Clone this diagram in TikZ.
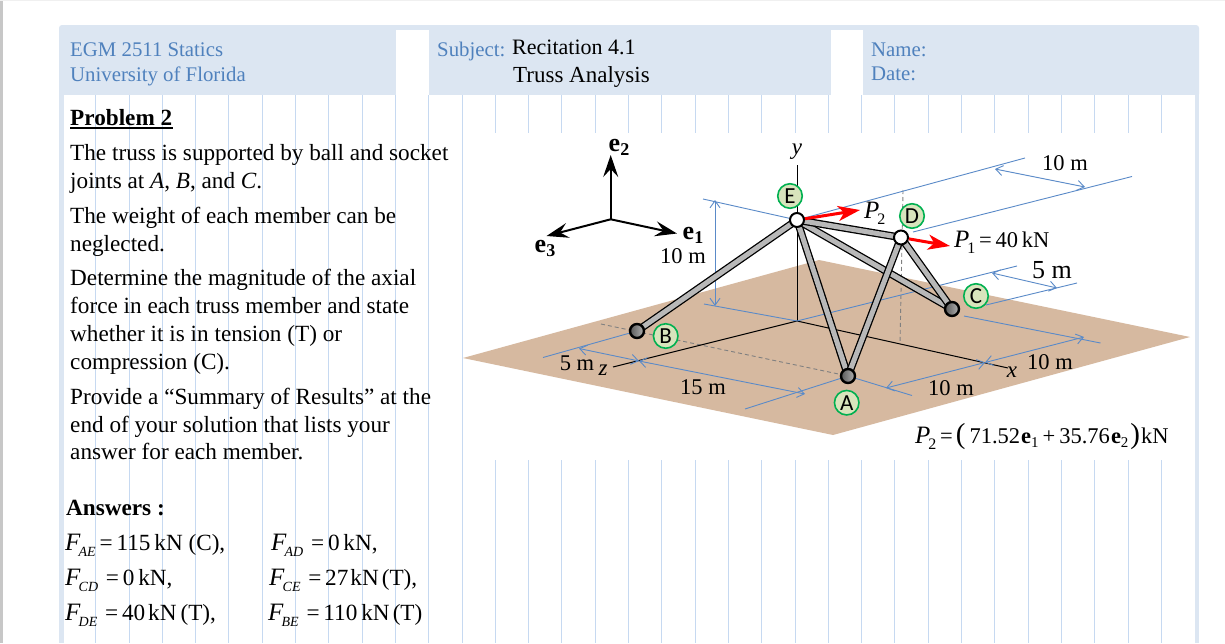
\documentclass[tikz,border=0pt]{standalone}
\usepackage{fontspec}
\setmainfont{Liberation Serif}
\newfontfamily\labelfont{Carlito}
\usetikzlibrary{arrows.meta,calc}
\definecolor{panel}{HTML}{DCE6F2}
\definecolor{gridc}{HTML}{C6D9F1}
\definecolor{headc}{HTML}{4F81BD}
\definecolor{dimc}{HTML}{5A8AC8}
\definecolor{groundc}{HTML}{D6B9A0}
\definecolor{lblfill}{HTML}{D8E4BC}
\definecolor{lbledge}{HTML}{00B050}
\newcommand{\fs}[1]{\fontsize{#1}{#1}\selectfont}
\newcommand{\Fsub}[1]{{\fs{25}\textit{F}}\kern-2pt\raisebox{-6pt}{\fs{14}\itshape #1}}
\newcommand{\Psub}[1]{{\fs{25}\textit{P}}\kern-2pt\raisebox{-6pt}{\fs{16}#1}}
\newcommand{\evec}[1]{\textbf{e}\raisebox{-4pt}{\fs{15}#1}}
\newcommand{\tvec}[1]{{\fs{26}\textbf{e}}\raisebox{-4pt}{\fs{18}\bfseries #1}}
\tikzset{
  txt/.style={anchor=base west,inner sep=0pt,font=\fs{23.2}},
  head/.style={anchor=base west,inner sep=0pt,font=\fs{20.8},text=headc},
  dimlbl/.style={inner sep=0pt,font=\fs{22.5}},
  dimline/.style={draw=dimc,line width=0.9pt},
  dimarrow/.style={draw=dimc,line width=0.9pt,{Straight Barb[length=7pt,width=10pt]}-{Straight Barb[length=7pt,width=10pt]}},
  axis/.style={draw=black,line width=1pt},
  hidden/.style={draw=gray,line width=0.9pt,dash pattern=on 4pt off 3pt},
  memo/.style={draw=black,line width=7.6pt},
  memi/.style={draw=black!28,line width=5pt},
  triad/.style={draw=black,line width=2pt,-{Stealth[length=22pt,width=15pt,inset=8pt]}},
  load/.style={draw=red,line width=3pt,-{Stealth[length=22pt,width=15pt,inset=6pt]}},
  pinjoint/.style={circle,draw=black,fill=white,line width=2pt,minimum size=14pt,inner sep=0pt},
  balljoint/.style={circle,draw=black,line width=2.4pt,left color=black!65,right color=black!30,minimum size=14pt,inner sep=0pt},
  lbl/.style={circle,draw=lbledge,fill=lblfill,line width=1.6pt,minimum size=24.5pt,inner sep=0pt,font=\labelfont\fs{23}},
  gridl/.style={draw=gridc,line width=1pt}
}
\begin{document}
\begin{tikzpicture}[x=1pt,y=-1pt]
\useasboundingbox (0,0) rectangle (1225,643);
\fill[white] (0,0) rectangle (1225,643);
\fill[black!22] (0,0) rectangle (3,643);
\fill[black!6] (0,0) rectangle (1225,1);
% page panel
\fill[panel,rounded corners=3pt] (59,25) rectangle (1199,97);
\fill[panel] (59,90) rectangle (64,643);
\fill[panel] (1195,90) rectangle (1199,643);
\fill[white] (64,95) rectangle (1195,643);
\fill[white] (396,30) rectangle (429,95);
\fill[white] (831,30) rectangle (863,95);
\foreach \k in {0,...,32}{
  \draw[gridl] ({95.7+33.3*\k},95) -- ({95.7+33.3*\k},643);
}
\fill[white] (463.5,133) rectangle (1195,460);
% header
\node[head] (h1) at (70,56) {EGM 2511 Statics};
\node[head] (h2) at (70,81) {University of Florida};
\node[head] (h3) at (437,56) {Subject:};
\node[txt,font=\fs{22}] (h4) at (512,54) {Recitation 4.1};
\node[txt,font=\fs{23}] (h5) at (513,82) {Truss Analysis};
\node[head] (h6) at (871,56) {Name:};
\node[head] (h7) at (871,80) {Date:};
% problem text
\node[txt,font=\fs{23.2}\bfseries] (p0) at (70,125) {Problem 2};
\fill (70,127.4) rectangle (172.5,129);
\node[txt] (p1) at (70,160) {The truss is supported by ball and socket};
\node[txt] (p2) at (70,188) {joints at \textit{A}, \textit{B}, and \textit{C}.};
\node[txt] (p3) at (70,223) {The weight of each member can be};
\node[txt] (p4) at (70,251) {neglected.};
\node[txt] (p5) at (70,285) {Determine the magnitude of the axial};
\node[txt] (p6) at (70,313) {force in each truss member and state};
\node[txt] (p7) at (70,341) {whether it is in tension (T) or};
\node[txt] (p8) at (70,369) {compression (C).};
\node[txt] (p9) at (70,404) {Provide a “Summary of Results” at the};
\node[txt] (p10) at (70,432) {end of your solution that lists your};
\node[txt] (p11) at (70,459) {answer for each member.};
% answers
\node[txt,font=\fs{23.2}\bfseries] (a0) at (66,515) {Answers :};
\node[txt] (a1) at (65,550) {\Fsub{AE}\,=\,115\,kN (C),};
\node[txt] (a2) at (271,550) {\Fsub{AD}\,\,=\,0\,kN,};
\node[txt] (a3) at (65,585) {\Fsub{CD}\,\,=\,0\,kN,};
\node[txt] (a4) at (269,585) {\Fsub{CE}\,\,=\,27\kern2pt kN\kern3pt(T),};
\node[txt] (a5) at (65,620) {\Fsub{DE}\,\,=\,40\kern3pt kN\kern4pt(T),};
\node[txt] (a6) at (268,620) {\Fsub{BE}\,\,=\,110\kern4pt kN\kern3pt(T)};
% geometry
\coordinate (GL) at (463,358);
\coordinate (GT) at (819,260);
\coordinate (GR) at (1190,337);
\coordinate (GB) at (833,435);
\coordinate (O) at (797,321);
\coordinate (Y) at (797,165);
\coordinate (Z) at (613,367);
\coordinate (X) at (1008,368);
\fill[groundc] (GL) -- (GT) -- (GR) -- (GB) -- cycle;
% hidden lines
\coordinate (hA) at (601,324);
\coordinate (hB) at (903,190);
\coordinate (hC) at (900,344);
% dimension points
\coordinate (d1) at (703,199);
\coordinate (d2) at (704,304);
\coordinate (d3) at (715,200);
\coordinate (d4) at (715,306);
\coordinate (d5) at (1025,158);
\coordinate (d6) at (913,232);
\coordinate (d7) at (1132,176.5);
\coordinate (d8) at (995,169);
\coordinate (d9) at (1085,187);
\coordinate (d10) at (1017,266);
\coordinate (d11) at (986,305);
\coordinate (d12) at (1077,283);
\coordinate (d13) at (992,273);
\coordinate (d14) at (1057,288);
\coordinate (d15) at (964,316);
\coordinate (d16) at (1100.5,343);
\coordinate (d17) at (886,388);
\coordinate (d18) at (985,362.5);
\coordinate (d19) at (1084,337);
\coordinate (d20) at (912,395.5);
\coordinate (d21) at (745,409);
\coordinate (d22) at (579,348.5);
\coordinate (d23) at (639,361);
\coordinate (d24) at (805,394);
\coordinate (d25) at (543,357.5);
% joints placed first so that connectors can name them
\coordinate (E) at (797,220);
\coordinate (D) at (901,237.5);
\coordinate (A) at (848,376);
\coordinate (B) at (637,331);
\coordinate (C) at (952,309);
\draw[hidden] (hA) -- (A);
\draw[hidden] (hB) -- (hC);
% axes
\draw[axis] (O) -- (Y);
\draw[axis] (O) -- (Z);
\draw[axis] (O) -- (X);
\node[inner sep=0pt,font=\fs{23}\itshape] (ylab) at (797,152) {y};
\node[inner sep=0pt,font=\fs{23}\itshape] (zlab) at (603,370) {z};
\node[inner sep=0pt,font=\fs{23}\itshape] (xlab) at (1012,372) {x};
% dimension lines
\draw[dimline] (d1) -- (E);
\draw[dimline] (d2) -- (O);
\draw[dimarrow] (d3) -- (d4);
\draw[dimline] (E) -- (d5);
\draw[dimline] (d6) -- (d7);
\draw[dimarrow] (d8) -- (d9);
\draw[dimline] (O) -- (d10);
\draw[dimline] (d11) -- (d12);
\draw[dimarrow] (d13) -- (d14);
\draw[dimline] (d15) -- (d16);
\draw[dimarrow] (d17) -- (d18);
\draw[dimarrow] (d18) -- (d19);
\draw[dimline] (A) -- (d20);
\draw[dimline] (d21) -- (A);
\draw[dimarrow] (d22) -- (d23);
\draw[dimarrow] (d23) -- (d24);
\draw[dimline] (d25) -- (B);
% members
\foreach \p/\q in {E/B,E/A,E/C,E/D,D/A,D/C}{
  \draw[memo] (\p) -- (\q);
  \draw[memi] (\p) -- (\q);
}
% loads
\node[pinjoint] (nE) at (E) {};
\node[pinjoint] (nD) at (D) {};
\node[balljoint] (nA) at (A) {};
\node[balljoint] (nB) at (B) {};
\node[balljoint] (nC) at (C) {};
\coordinate (P2tip) at (860,210);
\coordinate (P1tip) at (950,246);
\draw[load] (nE) -- (P2tip);
\draw[load] (nD) -- (P1tip);
% joint labels
\node[lbl] (lE) at (790,196) {E};
\node[lbl] (lB) at (665.7,336) {B};
\node[lbl] (lD) at (912,216) {D};
\node[lbl] (lC) at (976,296) {C};
\node[lbl] (lA) at (846.7,402.7) {A};
% triad
\coordinate (T0) at (610.7,219.3);
\coordinate (T2) at (610.7,155);
\coordinate (T1) at (677,233.5);
\coordinate (T3) at (546.5,236);
\draw[triad] (T0) -- (T2);
\draw[triad] (T0) -- (T1);
\draw[triad] (T0) -- (T3);
\node[inner sep=0pt] (e2) at (619,147) {\tvec{2}};
\node[inner sep=0pt] (e1) at (693,235) {\tvec{1}};
\node[inner sep=0pt] (e3) at (545,248) {\tvec{3}};
% dimension labels
\node[dimlbl] (t1) at (683,256) {10 m};
\node[dimlbl] (t2) at (577,363) {5 m};
\node[dimlbl] (t3) at (703,387) {15 m};
\node[dimlbl] (t4) at (1065,163) {10 m};
\node[dimlbl,font=\fs{26}] (t5) at (1052,270) {5 m};
\node[dimlbl] (t6) at (1050,362) {10 m};
\node[dimlbl] (t7) at (951,388) {10 m};
\node[anchor=base west,inner sep=0pt,font=\fs{22.5}] (P2l) at (864,218) {\Psub{2}};
\node[anchor=base west,inner sep=0pt,font=\fs{22.5}] (P1l) at (954,247) {\Psub{1}\,=\,40\,kN};
\node[anchor=base west,inner sep=0pt,font=\fs{22.5}] (P2e) at (915,443) {\Psub{2}\,=\kern3pt{\fs{29}(}\kern4pt 71.52\kern1pt\evec{1}\kern4pt+\kern4pt 35.76\kern1pt\evec{2}\kern2pt{\fs{29})}\kern1pt kN};
\end{tikzpicture}
\end{document}
